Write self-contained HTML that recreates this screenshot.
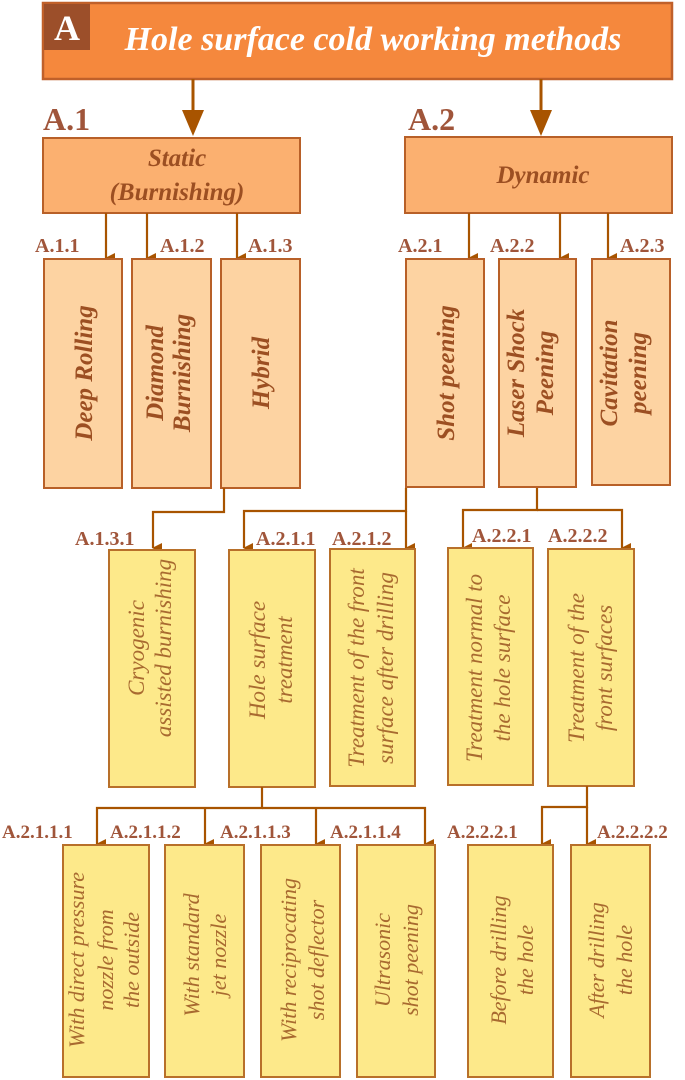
<!DOCTYPE html>
<html><head><meta charset="utf-8"><style>
html,body{margin:0;padding:0;background:#fff;}
svg{display:block;font-family:"Liberation Serif",serif;}
.lb{font-weight:bold;fill:#a0553a;}
.l2{font-weight:bold;font-style:italic;fill:#9c4f22;font-size:25px;}
.l3{font-style:italic;fill:#a86a30;font-size:23px;}
.l4{font-style:italic;fill:#a86a30;font-size:22px;}
</style></head><body>
<svg width="685" height="1080" viewBox="0 0 685 1080" xmlns="http://www.w3.org/2000/svg">
<defs><marker id="ah" markerWidth="10" markerHeight="10" refX="5" refY="9" orient="auto" markerUnits="userSpaceOnUse" viewBox="0 0 10 10"><path d="M0,0 L10,0 L5,10 Z" fill="#a85400"/></marker></defs>
<!-- top -->
<rect x="43" y="3" width="629" height="76" fill="#f5883d" stroke="#c0602a" stroke-width="2.5"/>
<rect x="44" y="4" width="46" height="46" fill="#9c4f2a"/>
<text x="67" y="40" text-anchor="middle" font-size="36" font-weight="bold" fill="#fff">A</text>
<text x="373" y="50" text-anchor="middle" font-size="34" font-weight="bold" font-style="italic" fill="#fff">Hole surface cold working methods</text>
<g stroke="#a85400" stroke-width="3" fill="none">
<line x1="193" y1="79" x2="193" y2="110"/><line x1="541" y1="79" x2="541" y2="110"/>
</g>
<path d="M182,110 L204,110 L193,136 Z" fill="#a85400"/>
<path d="M530,110 L552,110 L541,136 Z" fill="#a85400"/>
<text x="43" y="130" class="lb" font-size="32">A.1</text>
<text x="408" y="130" class="lb" font-size="32">A.2</text>
<rect x="43" y="138" width="257" height="75" fill="#fbb070" stroke="#b86028" stroke-width="2"/>
<rect x="405" y="137" width="267" height="76" fill="#fbb070" stroke="#b86028" stroke-width="2"/>
<text x="177" y="166" text-anchor="middle" class="l2" font-size="27">Static</text>
<text x="177" y="200" text-anchor="middle" class="l2" font-size="27">(Burnishing)</text>
<text x="543" y="183" text-anchor="middle" class="l2" font-size="27">Dynamic</text>
<!-- level2 arrows -->
<g stroke="#a85400" stroke-width="2.2" fill="none" marker-end="url(#ah)">
<line x1="106" y1="213" x2="106" y2="258"/><line x1="147" y1="213" x2="147" y2="258"/><line x1="237" y1="213" x2="237" y2="258"/>
<line x1="469" y1="213" x2="469" y2="258"/><line x1="560" y1="213" x2="560" y2="258"/><line x1="608" y1="213" x2="608" y2="258"/>
</g>
<g class="lb" font-size="20">
<text x="35" y="252">A.1.1</text><text x="160" y="252">A.1.2</text><text x="248" y="252">A.1.3</text>
<text x="398" y="252">A.2.1</text><text x="490" y="252">A.2.2</text><text x="620" y="252">A.2.3</text>
</g>
<g fill="#fdd3a2" stroke="#b86028" stroke-width="2">
<rect x="44" y="259" width="78" height="229"/><rect x="132" y="259" width="79" height="229"/><rect x="221" y="259" width="79" height="229"/>
<rect x="406" y="259" width="78" height="228"/><rect x="499" y="259" width="77" height="228"/><rect x="592" y="259" width="78" height="226"/>
</g>
<g class="l2">
<text transform="translate(92,373) rotate(-90)" text-anchor="middle">Deep Rolling</text>
<text transform="translate(163,373) rotate(-90)" text-anchor="middle">Diamond</text>
<text transform="translate(190,373) rotate(-90)" text-anchor="middle">Burnishing</text>
<text transform="translate(269,373) rotate(-90)" text-anchor="middle">Hybrid</text>
<text transform="translate(454,373) rotate(-90)" text-anchor="middle">Shot peening</text>
<text transform="translate(524,373) rotate(-90)" text-anchor="middle">Laser Shock</text>
<text transform="translate(553,373) rotate(-90)" text-anchor="middle">Peening</text>
<text transform="translate(617,373) rotate(-90)" text-anchor="middle">Cavitation</text>
<text transform="translate(646,373) rotate(-90)" text-anchor="middle">peening</text>
</g>
<!-- level3 connectors -->
<g stroke="#a85400" stroke-width="2.2" fill="none">
<polyline points="224,488 224,512 153,512 153,548" marker-end="url(#ah)"/>
<polyline points="406,488 406,511 244,511 244,548" marker-end="url(#ah)"/>
<line x1="406" y1="511" x2="406" y2="548" marker-end="url(#ah)"/>
<polyline points="537,488 537,510 463,510 463,548" marker-end="url(#ah)"/>
<polyline points="537,510 622,510 622,548" marker-end="url(#ah)"/>
</g>
<g class="lb" font-size="20">
<text x="75" y="545">A.1.3.1</text><text x="256" y="545">A.2.1.1</text><text x="332" y="545">A.2.1.2</text>
<text x="472" y="542">A.2.2.1</text><text x="548" y="542">A.2.2.2</text>
</g>
<g fill="#fde98a" stroke="#b8702a" stroke-width="2">
<rect x="109" y="550" width="86" height="237"/><rect x="229" y="550" width="86" height="237"/><rect x="330" y="549" width="85" height="237"/>
<rect x="448" y="548" width="85" height="237"/><rect x="548" y="549" width="86" height="237"/>
</g>
<g class="l3">
<text transform="translate(144,648) rotate(-90)" text-anchor="middle">Cryogenic</text>
<text transform="translate(171,648) rotate(-90)" text-anchor="middle">assisted burnishing</text>
<text transform="translate(265,660) rotate(-90)" text-anchor="middle">Hole surface</text>
<text transform="translate(292,660) rotate(-90)" text-anchor="middle">treatment</text>
<text transform="translate(364,668) rotate(-90)" text-anchor="middle">Treatment of the front</text>
<text transform="translate(393,668) rotate(-90)" text-anchor="middle">surface after drilling</text>
<text transform="translate(482,668) rotate(-90)" text-anchor="middle">Treatment normal to</text>
<text transform="translate(510,668) rotate(-90)" text-anchor="middle">the hole surface</text>
<text transform="translate(584,668) rotate(-90)" text-anchor="middle">Treatment of the</text>
<text transform="translate(612,668) rotate(-90)" text-anchor="middle">front surfaces</text>
</g>
<!-- level4 connectors -->
<g stroke="#a85400" stroke-width="2.2" fill="none">
<polyline points="262,787 262,808 97,808 97,844" marker-end="url(#ah)"/>
<polyline points="262,808 425,808 425,844" marker-end="url(#ah)"/>
<line x1="205" y1="808" x2="205" y2="844" marker-end="url(#ah)"/>
<line x1="316" y1="808" x2="316" y2="844" marker-end="url(#ah)"/>
<polyline points="587,786 587,807 542,807 542,844" marker-end="url(#ah)"/>
<line x1="587" y1="807" x2="587" y2="844" marker-end="url(#ah)"/>
</g>
<g class="lb" font-size="19">
<text x="2" y="838">A.2.1.1.1</text><text x="110" y="838">A.2.1.1.2</text><text x="220" y="838">A.2.1.1.3</text><text x="330" y="838">A.2.1.1.4</text>
<text x="447" y="838">A.2.2.2.1</text><text x="597" y="838">A.2.2.2.2</text>
</g>
<g fill="#fde98a" stroke="#b8702a" stroke-width="2">
<rect x="63" y="845" width="86" height="232"/><rect x="165" y="845" width="79" height="232"/><rect x="261" y="845" width="79" height="232"/>
<rect x="357" y="845" width="78" height="232"/><rect x="468" y="845" width="85" height="232"/><rect x="571" y="845" width="79" height="232"/>
</g>
<g class="l4">
<text transform="translate(84,960) rotate(-90)" text-anchor="middle">With direct pressure</text>
<text transform="translate(113,960) rotate(-90)" text-anchor="middle">nozzle from</text>
<text transform="translate(139,960) rotate(-90)" text-anchor="middle">the outside</text>
<text transform="translate(199,955) rotate(-90)" text-anchor="middle">With standard</text>
<text transform="translate(226,955) rotate(-90)" text-anchor="middle">jet nozzle</text>
<text transform="translate(296,960) rotate(-90)" text-anchor="middle">With reciprocating</text>
<text transform="translate(324,960) rotate(-90)" text-anchor="middle">shot deflector</text>
<text transform="translate(390,960) rotate(-90)" text-anchor="middle">Ultrasonic</text>
<text transform="translate(418,960) rotate(-90)" text-anchor="middle">shot peening</text>
<text transform="translate(506,960) rotate(-90)" text-anchor="middle">Before drilling</text>
<text transform="translate(533,960) rotate(-90)" text-anchor="middle">the hole</text>
<text transform="translate(604,960) rotate(-90)" text-anchor="middle">After drilling</text>
<text transform="translate(632,960) rotate(-90)" text-anchor="middle">the hole</text>
</g>
</svg>
</body></html>
